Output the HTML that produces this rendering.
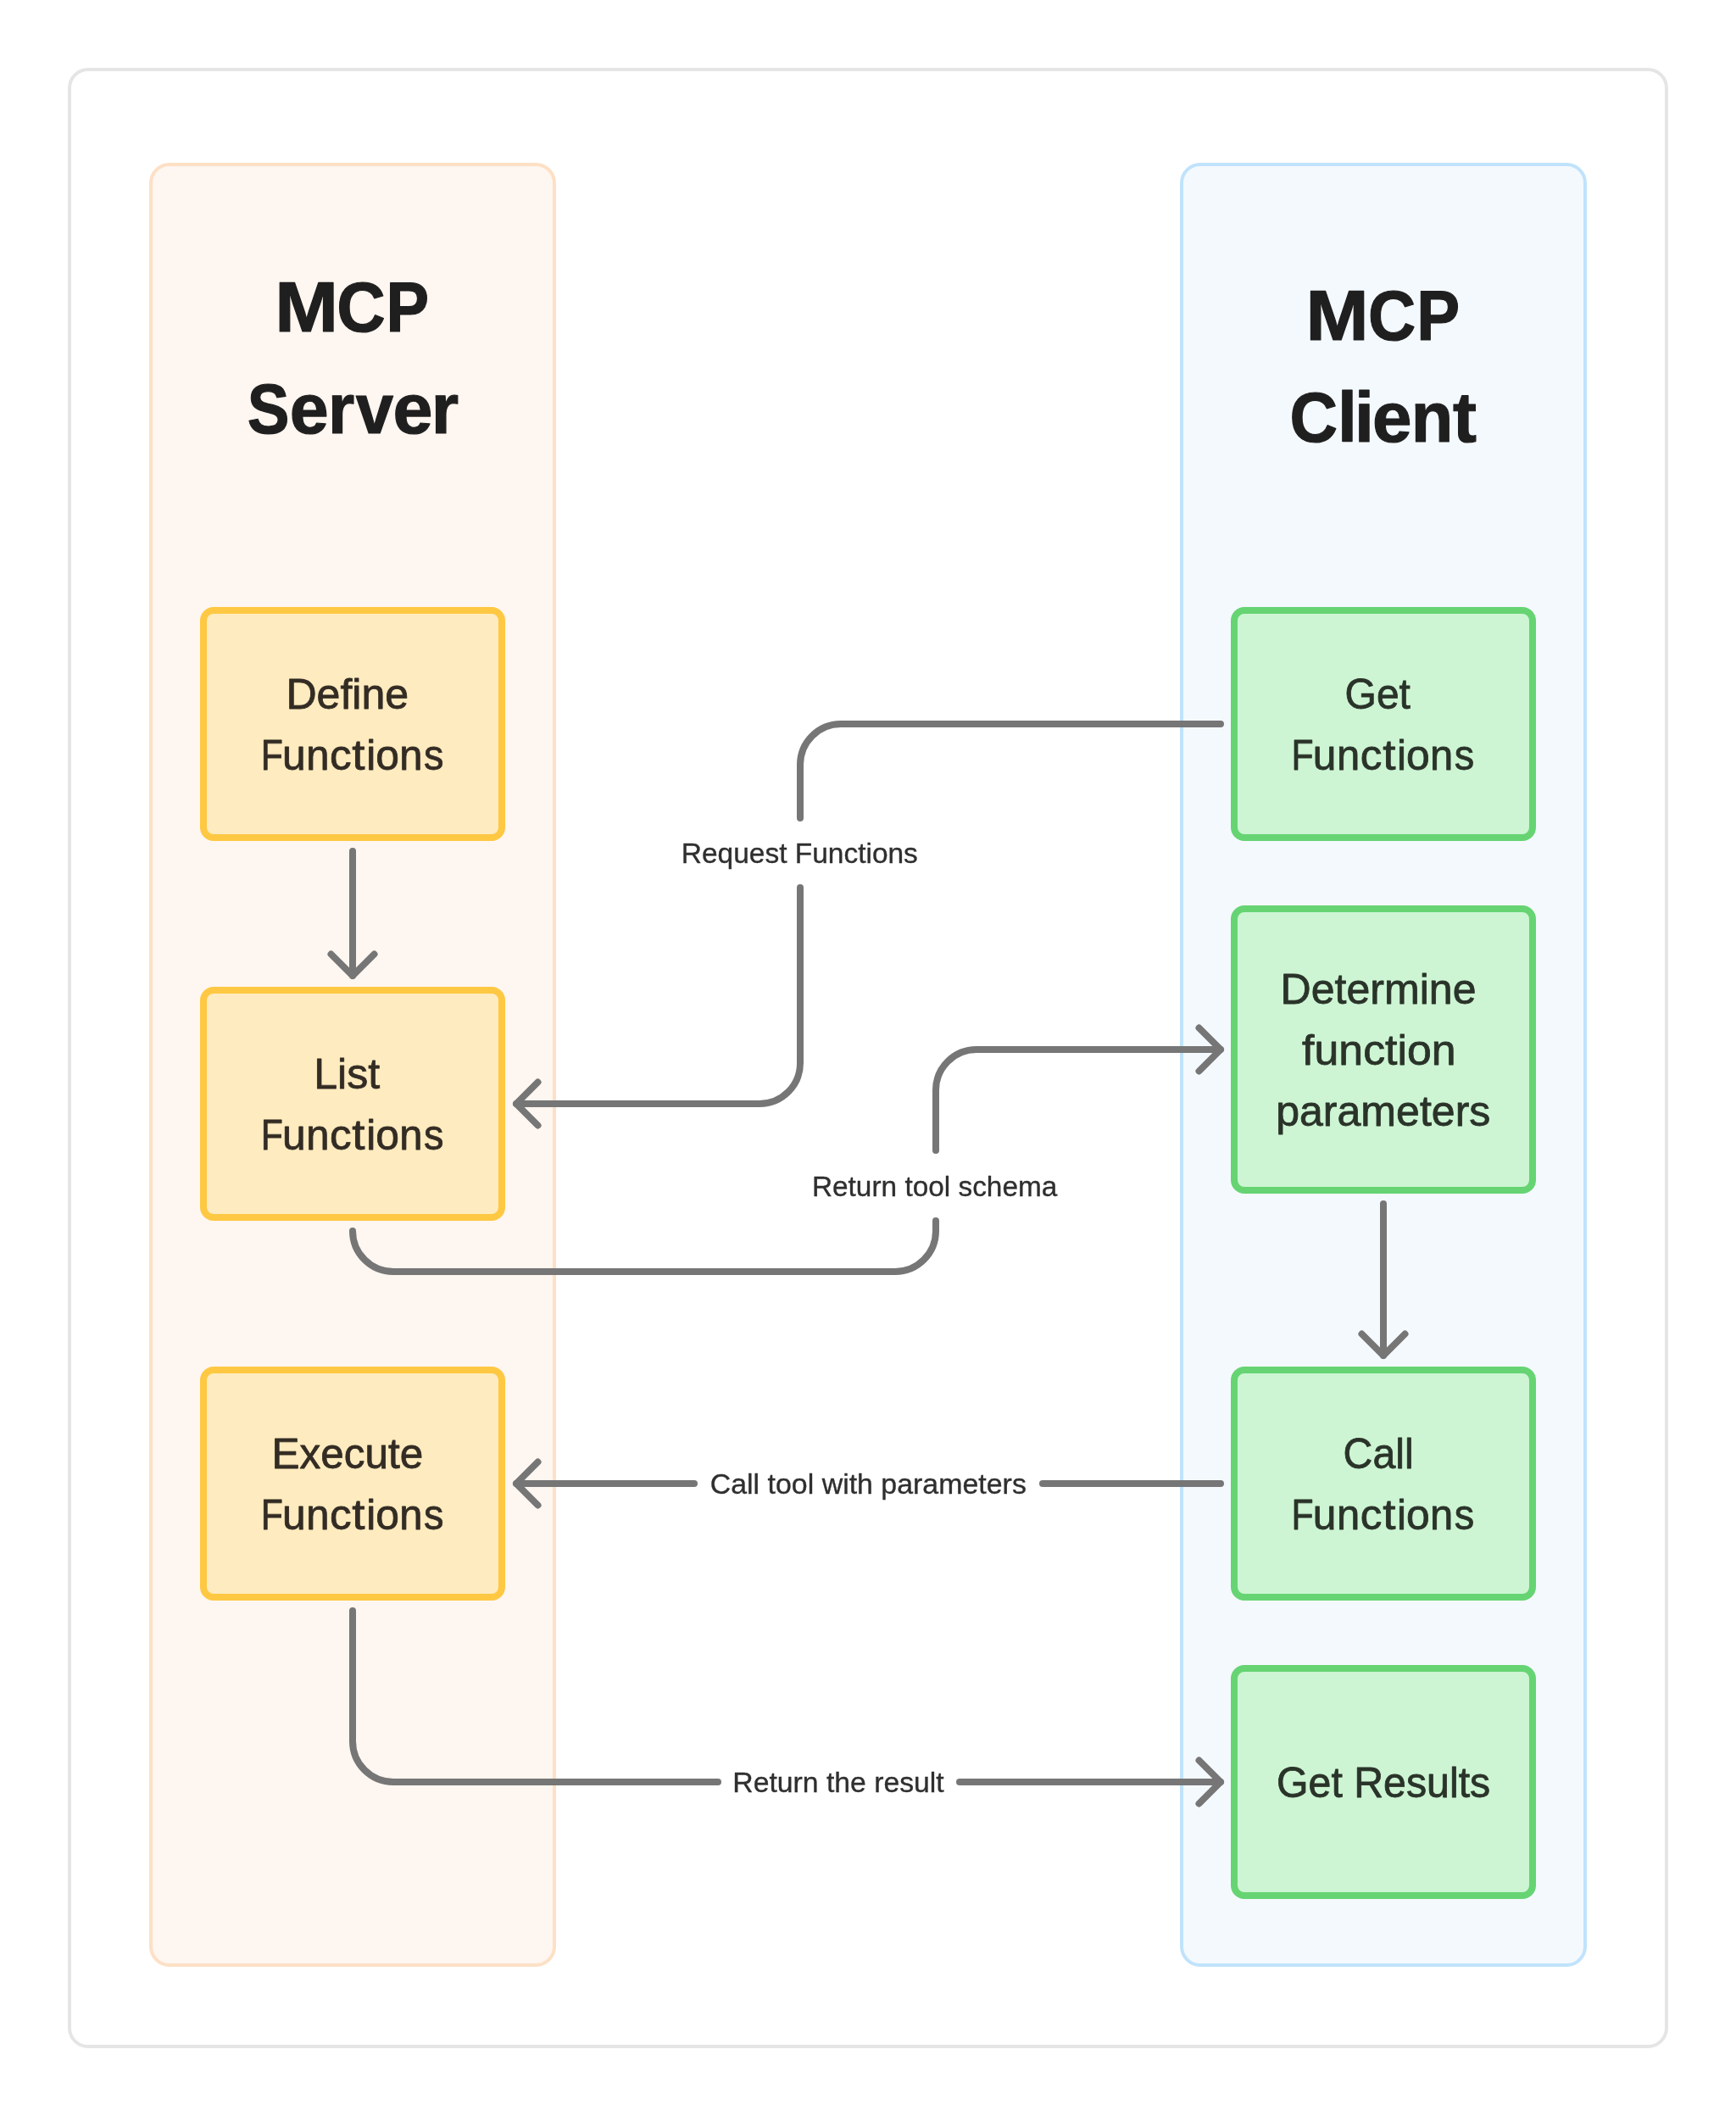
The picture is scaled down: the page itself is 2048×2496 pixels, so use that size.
<!DOCTYPE html>
<html><head><meta charset="utf-8"><title>MCP Server / Client</title>
<style>
html,body{margin:0;padding:0;background:#ffffff;}
body{width:2048px;height:2496px;overflow:hidden;position:relative;font-family:"Liberation Sans",sans-serif;}
svg{position:absolute;left:0;top:0;display:block;will-change:transform;}
</style></head><body>
<svg width="2048" height="2496" viewBox="0 0 2048 2496">
<rect x="82.0" y="82.0" width="1884" height="2332" rx="22.0" fill="#ffffff" stroke="#e5e5e5" stroke-width="4"/>
<rect x="178.0" y="194.0" width="476" height="2124" rx="22.0" fill="#fef6f0" stroke="#fde0c5" stroke-width="4"/>
<rect x="1394.0" y="194.0" width="476" height="2124" rx="22.0" fill="#f4f9fe" stroke="#c0e3fb" stroke-width="4"/>
<rect x="240.0" y="720.0" width="352" height="268" rx="12.0" fill="#feebbf" stroke="#fec843" stroke-width="8"/>
<rect x="240.0" y="1168.0" width="352" height="268" rx="12.0" fill="#feebbf" stroke="#fec843" stroke-width="8"/>
<rect x="240.0" y="1616.0" width="352" height="268" rx="12.0" fill="#feebbf" stroke="#fec843" stroke-width="8"/>
<rect x="1456.0" y="720.0" width="352" height="268" rx="12.0" fill="#cdf5d3" stroke="#66d473" stroke-width="8"/>
<rect x="1456.0" y="1072.0" width="352" height="332" rx="12.0" fill="#cdf5d3" stroke="#66d473" stroke-width="8"/>
<rect x="1456.0" y="1616.0" width="352" height="268" rx="12.0" fill="#cdf5d3" stroke="#66d473" stroke-width="8"/>
<rect x="1456.0" y="1968.0" width="352" height="268" rx="12.0" fill="#cdf5d3" stroke="#66d473" stroke-width="8"/>
<g fill="none" stroke="#767676" stroke-width="8" stroke-linecap="round" stroke-linejoin="round"><path d="M416 1004 V1151"/><path d="M390.5 1125.5 L416 1151 L441.5 1125.5"/><path d="M1440 854 H992 A48 48 0 0 0 944 902 V965"/><path d="M944 1047 V1254 A48 48 0 0 1 896 1302 H609"/><path d="M634.5 1276.5 L609 1302 L634.5 1327.5"/><path d="M416 1452 A48 48 0 0 0 464 1500 H1056 A48 48 0 0 0 1104 1452 V1440"/><path d="M1104 1357 V1286 A48 48 0 0 1 1152 1238 H1440"/><path d="M1414.5 1212.5 L1440 1238 L1414.5 1263.5"/><path d="M1632 1420 V1599"/><path d="M1606.5 1573.5 L1632 1599 L1657.5 1573.5"/><path d="M1440 1750 H1230"/><path d="M819 1750 H609"/><path d="M634.5 1724.5 L609 1750 L634.5 1775.5"/><path d="M416 1900 V2054 A48 48 0 0 0 464 2102 H847"/><path d="M1132 2102 H1440"/><path d="M1414.5 2076.5 L1440 2102 L1414.5 2127.5"/></g>
<g font-family="Liberation Sans, sans-serif" stroke-linejoin="round"><text font-weight="700" font-size="82.85" fill="#1f1f1f" stroke="#1f1f1f" stroke-width="1.2" transform="matrix(1.0841 0 0 1 324.19 390.70)">M</text>
<text font-weight="700" font-size="82.85" fill="#1f1f1f" stroke="#1f1f1f" stroke-width="1.2" transform="matrix(0.9600 0 0 1 397.34 390.70)">C</text>
<text font-weight="700" font-size="82.85" fill="#1f1f1f" stroke="#1f1f1f" stroke-width="1.2" transform="matrix(0.9150 0 0 1 455.53 390.70)">P</text>
<text font-weight="700" font-size="82.56" fill="#1f1f1f" stroke="#1f1f1f" stroke-width="1.2" transform="matrix(0.9017 0 0 1 291.76 510.80)">S</text>
<text font-weight="700" font-size="82.56" fill="#1f1f1f" stroke="#1f1f1f" stroke-width="1.2" transform="matrix(1.0008 0 0 1 341.67 510.80)">e</text>
<text font-weight="700" font-size="82.56" fill="#1f1f1f" stroke="#1f1f1f" stroke-width="1.2" transform="matrix(0.9710 0 0 1 387.12 510.80)">r</text>
<text font-weight="700" font-size="82.56" fill="#1f1f1f" stroke="#1f1f1f" stroke-width="1.2" transform="matrix(0.9662 0 0 1 419.79 510.80)">v</text>
<text font-weight="700" font-size="82.56" fill="#1f1f1f" stroke="#1f1f1f" stroke-width="1.2" transform="matrix(1.0234 0 0 1 463.40 510.80)">e</text>
<text font-weight="700" font-size="82.56" fill="#1f1f1f" stroke="#1f1f1f" stroke-width="1.2" transform="matrix(1.0064 0 0 1 508.72 510.80)">r</text>
<text font-weight="700" font-size="82.85" fill="#1f1f1f" stroke="#1f1f1f" stroke-width="1.2" transform="matrix(1.0737 0 0 1 1540.45 400.70)">M</text>
<text font-weight="700" font-size="82.85" fill="#1f1f1f" stroke="#1f1f1f" stroke-width="1.2" transform="matrix(0.9397 0 0 1 1614.11 400.70)">C</text>
<text font-weight="700" font-size="82.85" fill="#1f1f1f" stroke="#1f1f1f" stroke-width="1.2" transform="matrix(0.9214 0 0 1 1671.29 400.70)">P</text>
<text font-weight="700" font-size="82.56" fill="#1f1f1f" stroke="#1f1f1f" stroke-width="1.2" transform="matrix(0.9485 0 0 1 1521.39 520.80)">C</text>
<text font-weight="700" font-size="82.56" fill="#1f1f1f" stroke="#1f1f1f" stroke-width="1.2" transform="matrix(1.0000 0 0 1 1577.92 520.80)">l</text>
<text font-weight="700" font-size="82.56" fill="#1f1f1f" stroke="#1f1f1f" stroke-width="1.2" transform="matrix(1.0000 0 0 1 1598.07 520.80)">i</text>
<text font-weight="700" font-size="82.56" fill="#1f1f1f" stroke="#1f1f1f" stroke-width="1.2" transform="matrix(1.0133 0 0 1 1619.03 520.80)">e</text>
<text font-weight="700" font-size="82.56" fill="#1f1f1f" stroke="#1f1f1f" stroke-width="1.2" transform="matrix(0.9832 0 0 1 1664.65 520.80)">n</text>
<text font-weight="700" font-size="82.56" fill="#1f1f1f" stroke="#1f1f1f" stroke-width="1.2" transform="matrix(1.0166 0 0 1 1713.88 520.80)">t</text>
<text font-size="49.86" fill="#332c24" stroke="#332c24" stroke-width="0.8" transform="matrix(1.0050 0 0 1 337.39 835.60)">Define</text>
<text font-size="49.71" fill="#332c24" stroke="#332c24" stroke-width="0.8" transform="matrix(0.8602 0 0 1 307.79 907.60)">F</text>
<text font-size="49.71" fill="#332c24" stroke="#332c24" stroke-width="0.8" transform="matrix(0.9992 0 0 1 333.07 907.60)">u</text>
<text font-size="49.71" fill="#332c24" stroke="#332c24" stroke-width="0.8" transform="matrix(0.9850 0 0 1 361.25 907.60)">n</text>
<text font-size="49.71" fill="#332c24" stroke="#332c24" stroke-width="0.8" transform="matrix(1.0311 0 0 1 389.02 907.60)">c</text>
<text font-size="49.71" fill="#332c24" stroke="#332c24" stroke-width="0.8" transform="matrix(1.1028 0 0 1 415.37 907.60)">t</text>
<text font-size="49.71" fill="#332c24" stroke="#332c24" stroke-width="0.8" transform="matrix(1.0000 0 0 1 432.14 907.60)">i</text>
<text font-size="49.71" fill="#332c24" stroke="#332c24" stroke-width="0.8" transform="matrix(1.0012 0 0 1 443.21 907.60)">o</text>
<text font-size="49.71" fill="#332c24" stroke="#332c24" stroke-width="0.8" transform="matrix(0.9850 0 0 1 471.25 907.60)">n</text>
<text font-size="49.71" fill="#332c24" stroke="#332c24" stroke-width="0.8" transform="matrix(0.9458 0 0 1 499.89 907.60)">s</text>
<text font-size="49.86" fill="#332c24" stroke="#332c24" stroke-width="0.8" transform="matrix(1.0024 0 0 1 370.30 1283.60)">List</text>
<text font-size="49.71" fill="#332c24" stroke="#332c24" stroke-width="0.8" transform="matrix(0.8602 0 0 1 307.79 1355.60)">F</text>
<text font-size="49.71" fill="#332c24" stroke="#332c24" stroke-width="0.8" transform="matrix(0.9992 0 0 1 333.07 1355.60)">u</text>
<text font-size="49.71" fill="#332c24" stroke="#332c24" stroke-width="0.8" transform="matrix(0.9850 0 0 1 361.25 1355.60)">n</text>
<text font-size="49.71" fill="#332c24" stroke="#332c24" stroke-width="0.8" transform="matrix(1.0311 0 0 1 389.02 1355.60)">c</text>
<text font-size="49.71" fill="#332c24" stroke="#332c24" stroke-width="0.8" transform="matrix(1.1028 0 0 1 415.37 1355.60)">t</text>
<text font-size="49.71" fill="#332c24" stroke="#332c24" stroke-width="0.8" transform="matrix(1.0000 0 0 1 432.14 1355.60)">i</text>
<text font-size="49.71" fill="#332c24" stroke="#332c24" stroke-width="0.8" transform="matrix(1.0012 0 0 1 443.21 1355.60)">o</text>
<text font-size="49.71" fill="#332c24" stroke="#332c24" stroke-width="0.8" transform="matrix(0.9850 0 0 1 471.25 1355.60)">n</text>
<text font-size="49.71" fill="#332c24" stroke="#332c24" stroke-width="0.8" transform="matrix(0.9458 0 0 1 499.89 1355.60)">s</text>
<text font-size="49.86" fill="#332c24" stroke="#332c24" stroke-width="0.8" transform="matrix(0.9923 0 0 1 320.44 1731.60)">Execute</text>
<text font-size="49.71" fill="#332c24" stroke="#332c24" stroke-width="0.8" transform="matrix(0.8602 0 0 1 307.79 1803.60)">F</text>
<text font-size="49.71" fill="#332c24" stroke="#332c24" stroke-width="0.8" transform="matrix(0.9992 0 0 1 333.07 1803.60)">u</text>
<text font-size="49.71" fill="#332c24" stroke="#332c24" stroke-width="0.8" transform="matrix(0.9850 0 0 1 361.25 1803.60)">n</text>
<text font-size="49.71" fill="#332c24" stroke="#332c24" stroke-width="0.8" transform="matrix(1.0311 0 0 1 389.02 1803.60)">c</text>
<text font-size="49.71" fill="#332c24" stroke="#332c24" stroke-width="0.8" transform="matrix(1.1028 0 0 1 415.37 1803.60)">t</text>
<text font-size="49.71" fill="#332c24" stroke="#332c24" stroke-width="0.8" transform="matrix(1.0000 0 0 1 432.14 1803.60)">i</text>
<text font-size="49.71" fill="#332c24" stroke="#332c24" stroke-width="0.8" transform="matrix(1.0012 0 0 1 443.21 1803.60)">o</text>
<text font-size="49.71" fill="#332c24" stroke="#332c24" stroke-width="0.8" transform="matrix(0.9850 0 0 1 471.25 1803.60)">n</text>
<text font-size="49.71" fill="#332c24" stroke="#332c24" stroke-width="0.8" transform="matrix(0.9458 0 0 1 499.89 1803.60)">s</text>
<text font-size="49.86" fill="#2a3329" stroke="#2a3329" stroke-width="0.8" transform="matrix(0.9628 0 0 1 1586.59 835.60)">Get</text>
<text font-size="49.71" fill="#2a3329" stroke="#2a3329" stroke-width="0.8" transform="matrix(0.8602 0 0 1 1523.59 907.60)">F</text>
<text font-size="49.71" fill="#2a3329" stroke="#2a3329" stroke-width="0.8" transform="matrix(0.9992 0 0 1 1548.87 907.60)">u</text>
<text font-size="49.71" fill="#2a3329" stroke="#2a3329" stroke-width="0.8" transform="matrix(0.9850 0 0 1 1577.05 907.60)">n</text>
<text font-size="49.71" fill="#2a3329" stroke="#2a3329" stroke-width="0.8" transform="matrix(1.0311 0 0 1 1604.82 907.60)">c</text>
<text font-size="49.71" fill="#2a3329" stroke="#2a3329" stroke-width="0.8" transform="matrix(1.1028 0 0 1 1631.17 907.60)">t</text>
<text font-size="49.71" fill="#2a3329" stroke="#2a3329" stroke-width="0.8" transform="matrix(1.0000 0 0 1 1647.94 907.60)">i</text>
<text font-size="49.71" fill="#2a3329" stroke="#2a3329" stroke-width="0.8" transform="matrix(1.0012 0 0 1 1659.01 907.60)">o</text>
<text font-size="49.71" fill="#2a3329" stroke="#2a3329" stroke-width="0.8" transform="matrix(0.9850 0 0 1 1687.05 907.60)">n</text>
<text font-size="49.71" fill="#2a3329" stroke="#2a3329" stroke-width="0.8" transform="matrix(0.9458 0 0 1 1715.69 907.60)">s</text>
<text font-size="49.86" fill="#2a3329" stroke="#2a3329" stroke-width="0.8" transform="matrix(1.0046 0 0 1 1510.49 1183.60)">Determine</text>
<text font-size="49.71" fill="#2a3329" stroke="#2a3329" stroke-width="0.8" transform="matrix(1.0430 0 0 1 1536.07 1255.60)">function</text>
<text font-size="49.71" fill="#2a3329" stroke="#2a3329" stroke-width="0.8" transform="matrix(1.0072 0 0 1 1505.17 1327.60)">parameters</text>
<text font-size="49.86" fill="#2a3329" stroke="#2a3329" stroke-width="0.8" transform="matrix(0.9685 0 0 1 1584.55 1731.60)">Call</text>
<text font-size="49.71" fill="#2a3329" stroke="#2a3329" stroke-width="0.8" transform="matrix(0.8602 0 0 1 1523.59 1803.60)">F</text>
<text font-size="49.71" fill="#2a3329" stroke="#2a3329" stroke-width="0.8" transform="matrix(0.9992 0 0 1 1548.87 1803.60)">u</text>
<text font-size="49.71" fill="#2a3329" stroke="#2a3329" stroke-width="0.8" transform="matrix(0.9850 0 0 1 1577.05 1803.60)">n</text>
<text font-size="49.71" fill="#2a3329" stroke="#2a3329" stroke-width="0.8" transform="matrix(1.0311 0 0 1 1604.82 1803.60)">c</text>
<text font-size="49.71" fill="#2a3329" stroke="#2a3329" stroke-width="0.8" transform="matrix(1.1028 0 0 1 1631.17 1803.60)">t</text>
<text font-size="49.71" fill="#2a3329" stroke="#2a3329" stroke-width="0.8" transform="matrix(1.0000 0 0 1 1647.94 1803.60)">i</text>
<text font-size="49.71" fill="#2a3329" stroke="#2a3329" stroke-width="0.8" transform="matrix(1.0012 0 0 1 1659.01 1803.60)">o</text>
<text font-size="49.71" fill="#2a3329" stroke="#2a3329" stroke-width="0.8" transform="matrix(0.9850 0 0 1 1687.05 1803.60)">n</text>
<text font-size="49.71" fill="#2a3329" stroke="#2a3329" stroke-width="0.8" transform="matrix(0.9458 0 0 1 1715.69 1803.60)">s</text>
<text font-size="49.71" fill="#2a3329" stroke="#2a3329" stroke-width="0.8" transform="matrix(0.9718 0 0 1 1505.97 2119.60)">Get Results</text>
<text font-size="33.21" fill="#2f2f2f" stroke="#2f2f2f" stroke-width="0.35" transform="matrix(1.0082 0 0 1 803.83 1017.83)">Request Functions</text>
<text font-size="33.36" fill="#2f2f2f" stroke="#2f2f2f" stroke-width="0.35" transform="matrix(1.0008 0 0 1 957.94 1411.12)">Return tool schema</text>
<text font-size="32.92" fill="#2f2f2f" stroke="#2f2f2f" stroke-width="0.35" transform="matrix(1.0304 0 0 1 837.75 1761.83)">Call tool with parameters</text>
<text font-size="33.36" fill="#2f2f2f" stroke="#2f2f2f" stroke-width="0.35" transform="matrix(1.0116 0 0 1 864.31 2113.72)">Return the result</text></g>
</svg>
</body></html>
